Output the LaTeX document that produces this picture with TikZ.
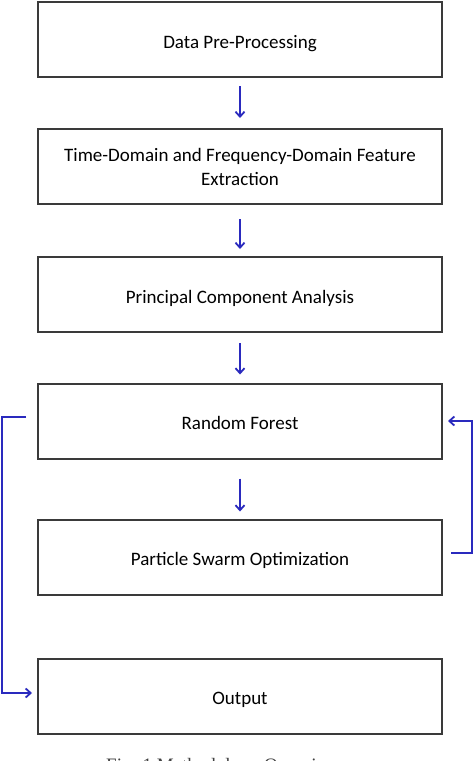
\documentclass[tikz,border=0pt]{standalone}
\usepackage{fontspec}
\setmainfont{Carlito}
\newfontfamily\capfont{Liberation Serif}
\usetikzlibrary{arrows.meta}
\definecolor{flowblue}{HTML}{2A2ABE}
\definecolor{boxline}{HTML}{3A3A3A}
\begin{document}
\begin{tikzpicture}[x=1pt,y=-1pt,
  stepbox/.style={draw=boxline,line width=2pt,minimum width=404pt,minimum height=75pt,
    align=center,inner sep=0pt,font=\fontsize{19}{24}\selectfont,text=black},
  onebox/.style={stepbox,text height=17pt,text depth=0pt},
  flow/.style={draw=flowblue,line width=1.8pt,-{Straight Barb[length=5pt,width=9pt,line width=1.8pt]}},
  feed/.style={draw=flowblue,line width=1.8pt}]
\clip (0,0) rectangle (474,761);
\fill[white] (0,0) rectangle (474,761);
\node[onebox] (pre) at (240,39.5) {Data Pre-Processing};
\node[stepbox] (fe) at (240,166.5) {Time-Domain and Frequency-Domain Feature\\Extraction};
\node[onebox] (pca) at (240,294.5) {Principal Component Analysis};
\node[onebox] (rf) at (240,421) {Random Forest};
\node[onebox] (pso) at (240,557) {Particle Swarm Optimization};
\node[onebox] (out) at (240,696) {Output};
\draw[flow,shorten <=8pt,shorten >=10pt] (pre.south) -- (fe.north);
\draw[flow,shorten <=14pt,shorten >=7pt] (fe.south) -- (pca.north);
\draw[flow,shorten <=10pt,shorten >=8pt] (pca.south) -- (rf.north);
\draw[flow,shorten <=19pt,shorten >=7pt] (rf.south) -- (pso.north);
% left feedback
\coordinate (ls) at ([xshift=-11pt,yshift=4pt]rf.west);
\coordinate (lc) at (2,417);
\coordinate (le) at ([xshift=-5pt,yshift=3pt]out.west);
\draw[feed] (ls) -- (lc) -- (2,693);
\draw[flow] (1.1,693) -- (le);
% right feedback
\coordinate (rs) at ([xshift=8pt,yshift=4pt]pso.east);
\coordinate (rc) at (472,553);
\coordinate (re) at ([xshift=5pt]rf.east);
\draw[feed] (rs) -- (rc) -- (472,421);
\draw[flow] (472.9,421) -- (re);
\node[anchor=base west,inner sep=0pt,text=black!75,font=\capfont\fontsize{19}{22}\selectfont] (cap) at (106,771) {Fig. 1 Methodology Overview};
\end{tikzpicture}
\end{document}
